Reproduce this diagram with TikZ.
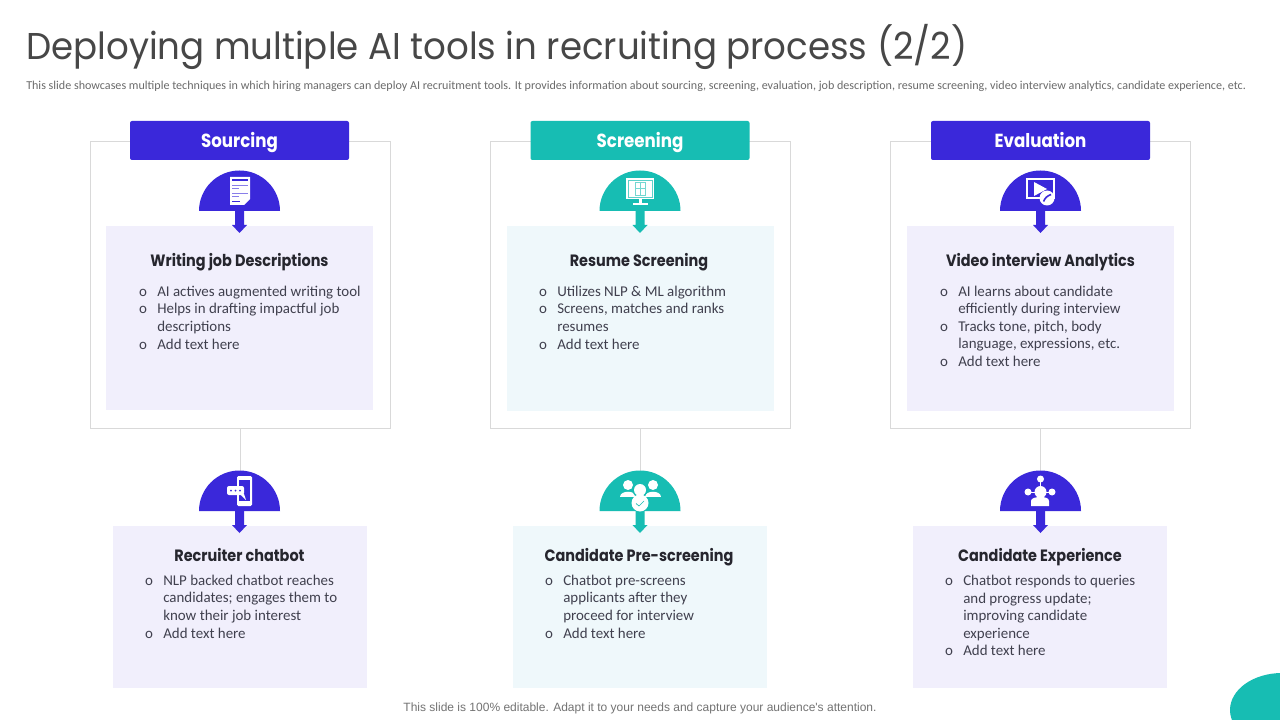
\documentclass[tikz,border=0pt]{standalone}
\usepackage{fontspec}
\setmainfont{Carlito}
\newfontfamily\titlefont[FakeStretch=0.953]{Poppins}
\newfontfamily\headfont[FakeStretch=0.88]{Poppins}
\newfontfamily\footfont{Liberation Sans}
\definecolor{bluemain}{HTML}{3A28DA}
\definecolor{tealmain}{HTML}{17BDB3}
\definecolor{bluecard}{HTML}{F1EFFC}
\definecolor{tealcard}{HTML}{EFF8FB}
\definecolor{framegray}{HTML}{D9D9D9}
\definecolor{inktext}{HTML}{40404E}
\definecolor{inkhead}{HTML}{26262E}
\def\dome[#1](#2,#3){\fill[#1] (#2-40.5,#3) arc (180:360:40.5) -- cycle;
	\fill[#1] (#2-4.5,#3) -- (#2+4.5,#3) -- (#2+4.5,#3+14) -- (#2+7.5,#3+14) -- (#2,#3+22) -- (#2-7.5,#3+14) -- (#2-4.5,#3+14) -- cycle;}
\tikzset{
	framebox/.style={draw=framegray, line width=0.75pt, minimum width=225pt, minimum height=215.25pt, inner sep=0pt, outer sep=0pt},
	tabbox/.style={rounded corners=1.5pt, minimum width=164.25pt, minimum height=29.25pt, inner sep=0pt, text height=11pt, text depth=1.2pt, text=white, font=\headfont\bfseries\fontsize{14.2}{17}\selectfont},
	bigcard/.style={minimum width=200.25pt, minimum height=138pt, inner sep=0pt, outer sep=0pt},
	smallcard/.style={minimum width=190.5pt, minimum height=121.5pt, inner sep=0pt, outer sep=0pt},
	cardtitle/.style={inner sep=0pt, text height=8.5pt, text depth=2.5pt, text=inkhead, font=\headfont\bfseries\fontsize{12.3}{15}\selectfont},
	itemtext/.style={anchor=base west, inner sep=0pt, align=left, text=inktext, font=\fontsize{11.2}{13.1}\selectfont},
	itemmark/.style={anchor=base, inner sep=0pt, text=inktext, font=\fontsize{11.2}{13.1}\selectfont},
	linkline/.style={draw=framegray, line width=0.75pt}
}
\begin{document}
\begin{tikzpicture}[x=0.75pt,y=-0.75pt]
	%%%%% START %%%%%
	\useasboundingbox (0,0) rectangle (1280,720);
	\fill[white] (0,0) rectangle (1280,720);
	\begin{scope}
		\clip (0,0) rectangle (1280,720);
		\fill[tealmain] (1282,710) ellipse (52 and 37);
	\end{scope}
	
	\node[anchor=base west, inner sep=0pt, text=black!72, font=\titlefont\fontsize{28}{34}\selectfont] (title) at (26,60) {Deploying multiple AI tools in recruiting process (2/2)};
	\node[anchor=base west, inner sep=0pt, text=black!58, font=\fontsize{9.06}{11}\selectfont] (subtitle) at (26,90) {This slide showcases multiple techniques in which hiring managers can deploy AI recruitment tools. It provides information about sourcing, screening, evaluation, job description, resume screening, video interview analytics, candidate experience, etc.};
	\node[inner sep=0pt, text=black!55, font=\footfont\fontsize{9}{11}\selectfont] (footer) at (640,708.5) {This slide is 100\% editable. Adapt it to your needs and capture your audience's attention.};
	
	\node[framebox] (frameA) at (240.5,285) {};
	\node[framebox] (frameB) at (640.5,285) {};
	\node[framebox] (frameC) at (1040.5,285) {};
	
	\node[tabbox, fill=bluemain] (tabA) at (239.5,140.5) {Sourcing};
	\node[tabbox, fill=tealmain] (tabB) at (640,140.5) {Screening};
	\node[tabbox, fill=bluemain] (tabC) at (1040.5,140.5) {Evaluation};
	
	\coordinate (topD) at (240.5,471);
	\coordinate (topE) at (640.5,471);
	\coordinate (topF) at (1040.5,471);
	\draw[linkline] (frameA.south) -- (topD);
	\draw[linkline] (frameB.south) -- (topE);
	\draw[linkline] (frameC.south) -- (topF);
	
	\node[bigcard, fill=bluecard] (cardA) at (239.5,318) {};
	\node[bigcard, fill=tealcard] (cardB) at (640,318.5) {};
	\node[bigcard, fill=bluecard] (cardC) at (1040.5,318.5) {};
	\node[smallcard, fill=bluecard] (cardD) at (240,607) {};
	\node[smallcard, fill=tealcard] (cardE) at (640,607) {};
	\node[smallcard, fill=bluecard] (cardF) at (1040,607) {};
	
	\dome[bluemain](239.5,211)
	\dome[tealmain](640,211)
	\dome[bluemain](1040.5,211)
	\dome[bluemain](239.5,511)
	\dome[tealmain](640,511)
	\dome[bluemain](1040.5,511)
	
	% document icon
	\fill[white] (230,177) -- (250,177) -- (250,199) -- (244,205) -- (230,205) -- cycle;
	\fill[bluemain] (232,179.5) rectangle (248,181.5);
	\fill[bluemain!60] (232,185) rectangle (248,186);
	\fill[bluemain!60] (232,188) rectangle (239,189);
	\fill[bluemain!60] (232,193) rectangle (248,194);
	\fill[bluemain!60] (232,196) rectangle (239,197);
	\fill[bluemain] (232,201) rectangle (240,202.5);
	
	% monitor icon
	\fill[white] (626,178) rectangle (654,199);
	\draw[tealmain!70, line width=0.3pt] (628,180) rectangle (652,197);
	\draw[tealmain!60, line width=0.3pt] (635,182) rectangle (645,195) (640,182) -- (640,195) (635,188.5) -- (645,188.5);
	\fill[white] (638.5,199) rectangle (641.5,204);
	\fill[white] (633,203.5) rectangle (648,205);
	
	% video icon
	\draw[white, line width=1.5pt] (1027,179) rectangle (1054,198);
	\fill[white] (1034,182) -- (1047,189) -- (1034,196) -- cycle;
	\fill[white] (1047,198) circle (7.5);
	\draw[bluemain, line width=1.2pt] (1043.5,201.5) .. controls (1045,198) and (1047,196) .. (1051,194.5);
	
	% chat icon
	\fill[white, rounded corners=1pt] (237,476) rectangle (252,506);
	\fill[bluemain] (239,480) rectangle (250,501);
	\fill[white, rounded corners=1.5pt] (227,486) rectangle (244,495);
	\fill[white] (240,494) -- (246,500) -- (244,494) -- cycle;
	\fill[bluemain] (231,490.5) circle (1) (235.5,490.5) circle (1) (240,490.5) circle (1);
	
	% people icon
	\fill[white] (628,485) circle (5) (653,485) circle (5);
	\fill[white] (620,497) .. controls (620,490) and (636,490) .. (636,497) -- cycle;
	\fill[white] (645,497) .. controls (645,490) and (661,490) .. (661,497) -- cycle;
	\fill[tealmain] (640,490) circle (7.5);
	\fill[white] (640,490) circle (6);
	\fill[white] (640,503) circle (8.5);
	\draw[tealmain, line width=0.5pt] (636,503.5) -- (639,506) -- (644,501);
	
	% experience icon
	\draw[white, line width=0.5pt] (1028,492) -- (1052,492) (1040.5,479) -- (1040.5,492);
	\fill[white] (1040.5,479) circle (3.5) (1028,492) circle (3.5) (1052,492) circle (3.5);
	\fill[white] (1040.5,492) circle (6);
	\fill[white] (1031,506) -- (1031,501) .. controls (1031,498) and (1036,497) .. (1040.5,497) .. controls (1045,497) and (1049,498) .. (1049,501) -- (1049,506) -- cycle;
	
	\node[cardtitle] (headA) at (239.5,263) {Writing job Descriptions};
	\node[cardtitle] (headB) at (639,263) {Resume Screening};
	\node[cardtitle] (headC) at (1040.5,263) {Video interview Analytics};
	\node[cardtitle] (headD) at (239.5,557) {Recruiter chatbot};
	\node[cardtitle] (headE) at (639,557) {Candidate Pre-screening};
	\node[cardtitle] (headF) at (1040,557) {Candidate Experience};
	
	\node[itemmark] (markA1) at (143,296) {o};
	\node[itemtext] (itemA1) at (157,296) {AI actives augmented writing tool};
	\node[itemmark] (markA2) at (143,313) {o};
	\node[itemtext] (itemA2) at (157,331) {Helps in drafting impactful job\\descriptions};
	\node[itemmark] (markA3) at (143,349) {o};
	\node[itemtext] (itemA3) at (157,349) {Add text here};
	
	\node[itemmark] (markB1) at (543,296) {o};
	\node[itemtext] (itemB1) at (557,296) {Utilizes NLP \& ML algorithm};
	\node[itemmark] (markB2) at (543,313) {o};
	\node[itemtext] (itemB2) at (557,331) {Screens, matches and ranks\\resumes};
	\node[itemmark] (markB3) at (543,349) {o};
	\node[itemtext] (itemB3) at (557,349) {Add text here};
	
	\node[itemmark] (markC1) at (944,296) {o};
	\node[itemtext] (itemC1) at (958,313.5) {AI learns about candidate\\efficiently during interview};
	\node[itemmark] (markC2) at (944,331) {o};
	\node[itemtext] (itemC2) at (958,348.5) {Tracks tone, pitch, body\\language, expressions, etc.};
	\node[itemmark] (markC3) at (944,366) {o};
	\node[itemtext] (itemC3) at (958,366) {Add text here};
	
	\node[itemmark] (markD1) at (149,585) {o};
	\node[itemtext] (itemD1) at (163,620) {NLP backed chatbot reaches\\candidates; engages them to\\know their job interest};
	\node[itemmark] (markD2) at (149,638) {o};
	\node[itemtext] (itemD2) at (163,638) {Add text here};
	
	\node[itemmark] (markE1) at (549,585) {o};
	\node[itemtext] (itemE1) at (563,620) {Chatbot pre-screens\\applicants after they\\proceed for interview};
	\node[itemmark] (markE2) at (549,638) {o};
	\node[itemtext] (itemE2) at (563,638) {Add text here};
	
	\node[itemmark] (markF1) at (949,585) {o};
	\node[itemtext] (itemF1) at (963,638) {Chatbot responds to queries\\and progress update;\\improving candidate\\experience};
	\node[itemmark] (markF2) at (949,655) {o};
	\node[itemtext] (itemF2) at (963,655) {Add text here};
	%%%%% END %%%%%
\end{tikzpicture}
\end{document}
